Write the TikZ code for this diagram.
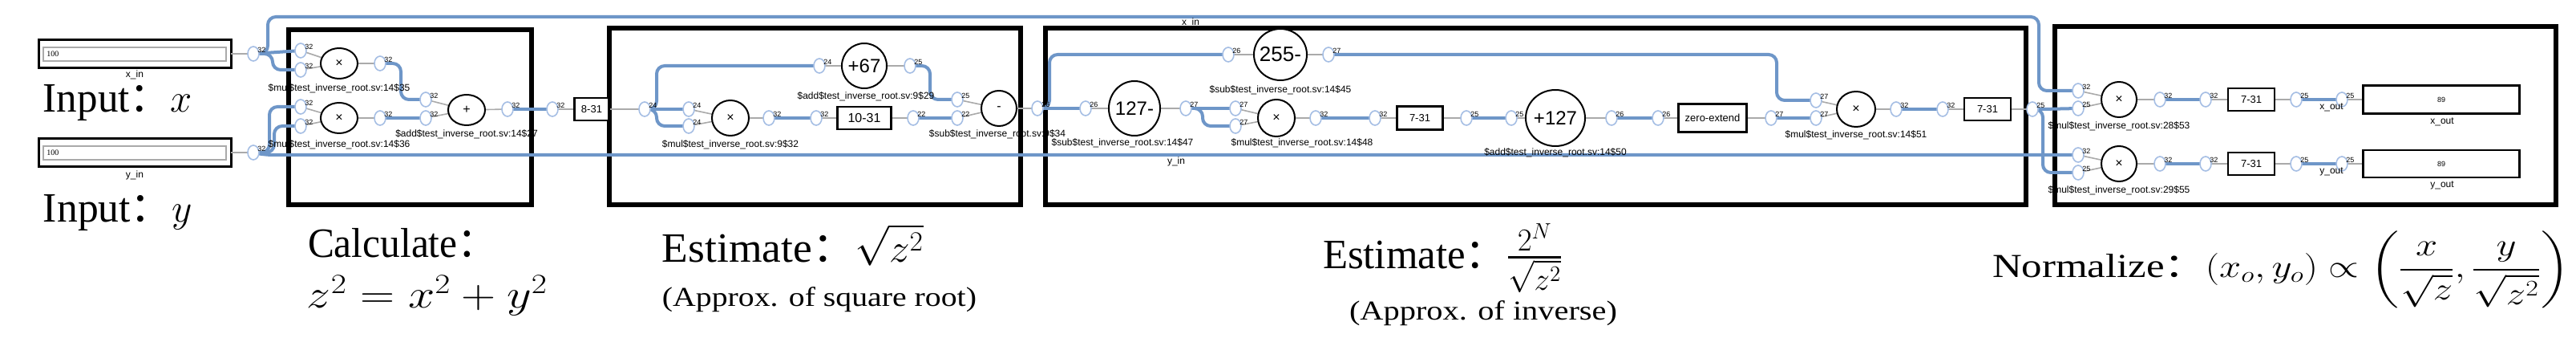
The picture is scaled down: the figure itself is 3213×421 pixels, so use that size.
\documentclass[tikz,border=0pt]{standalone}
\usepackage{amsmath}
\usepackage{fontspec}
\usepackage{graphicx}
\setmainfont{Liberation Serif}
\newfontfamily\lsans{Liberation Sans}
\newfontfamily\cjk{Noto Sans CJK SC}
\definecolor{wirec}{RGB}{110,150,200}
\definecolor{portc}{RGB}{165,190,228}
\definecolor{stubc}{RGB}{170,170,170}
\newcommand\myop[4]{\draw[opst] (#1) ellipse[x radius=#2,y radius=#3]; \node[optxt] at (#1) {#4};}
\newcommand\myport[2]{\draw[portst] (#1) ellipse[x radius=7,y radius=9]; \node[plab,anchor=south west,xshift=2.5pt,yshift=0.5pt] at (#1) {#2};}
\newcommand\mystub[2]{\draw[stubst] (#1) -- (#2);}
\newcommand\tir{test\_inverse\_root.sv}
\newcommand\cln{{\cjk ：}}
\begin{document}
\begin{tikzpicture}[x=0.5pt,y=-0.5pt,
  wire/.style={draw=wirec,line width=2pt,rounded corners=5pt},
  stubst/.style={draw=stubc,line width=0.8pt},
  opst/.style={draw=black,line width=1pt,fill=white},
  optxt/.style={font=\lsans\fontsize{8}{8}\selectfont,inner sep=0pt},
  portst/.style={draw=portc,line width=0.8pt,fill=white},
  plab/.style={font=\lsans\fontsize{4.5}{4.5}\selectfont,inner sep=0pt},
  nl/.style={font=\lsans\fontsize{6}{6}\selectfont,inner sep=0pt},
  rbox/.style={draw=black,line width=1.2pt,fill=white,font=\lsans\fontsize{6.5}{6.5}\selectfont,inner sep=0pt,align=center},
  bigbox/.style={draw=black,line width=3pt},
  captext/.style={inner sep=0pt,font=\fontsize{26}{28}\selectfont}]
\useasboundingbox (0,0) rectangle (3213,421);
\fill[white] (0,0) rectangle (3213,421);
% coordinates
\coordinate (xi) at (316,67); \coordinate (yi) at (316,190);
\coordinate (m1a) at (375,63); \coordinate (m1b) at (375,87); \coordinate (m1) at (423,79); \coordinate (m1o) at (474,79);
\coordinate (m2a) at (375,133); \coordinate (m2b) at (375,157); \coordinate (m2) at (423,147); \coordinate (m2o) at (474,147);
\coordinate (ada) at (531,124); \coordinate (adb) at (531,147); \coordinate (ad) at (582,137); \coordinate (ado) at (633,136);
\coordinate (r1i) at (689,136); \coordinate (r1o) at (804,136);
\coordinate (pa) at (1022,82); \coordinate (p67) at (1078,82); \coordinate (po) at (1135,82);
\coordinate (m3a) at (859,136); \coordinate (m3b) at (859,157); \coordinate (m3) at (911,147); \coordinate (m3o) at (959,147);
\coordinate (r2i) at (1018,147); \coordinate (r2o) at (1139,147);
\coordinate (sba) at (1194,124); \coordinate (sbb) at (1194,147); \coordinate (sb) at (1246,135); \coordinate (sbo) at (1294,135);
\coordinate (ta) at (1532,68); \coordinate (t255) at (1597,68); \coordinate (to) at (1657,68);
\coordinate (ua) at (1354,135); \coordinate (u127) at (1415,135); \coordinate (uo) at (1479,135);
\coordinate (m4a) at (1541,135); \coordinate (m4b) at (1541,157); \coordinate (m4) at (1592,147); \coordinate (m4o) at (1641,147);
\coordinate (r3i) at (1715,147); \coordinate (r3o) at (1829,147);
\coordinate (aa) at (1885,147); \coordinate (a127) at (1940,147); \coordinate (ao) at (2010,147);
\coordinate (zi) at (2068,147); \coordinate (zo) at (2209,147);
\coordinate (m5a) at (2265,125); \coordinate (m5b) at (2265,147); \coordinate (m5) at (2315,136); \coordinate (m5o) at (2365,136);
\coordinate (r4i) at (2423,136); \coordinate (r4o) at (2535,136);
\coordinate (m6a) at (2592,113); \coordinate (m6b) at (2592,135); \coordinate (m6) at (2643,124); \coordinate (m6o) at (2694,124);
\coordinate (r5i) at (2751,124); \coordinate (r5o) at (2864,124); \coordinate (xoi) at (2921,124);
\coordinate (m7a) at (2592,193); \coordinate (m7b) at (2592,215); \coordinate (m7) at (2643,204); \coordinate (m7o) at (2694,204);
\coordinate (r6i) at (2751,204); \coordinate (r6o) at (2864,204); \coordinate (yoi) at (2921,204);
% big boxes
\draw[bigbox] (360,37) rectangle (663,255);
\draw[bigbox] (760,35) rectangle (1273,255);
\draw[bigbox] (1304,35) rectangle (2527,255);
\draw[bigbox] (2563,33) rectangle (3188,255);
% input boxes
\draw[black,line width=1.5pt] (48,50) rectangle (288,85);
\draw[stubc,line width=0.8pt] (54,59) rectangle (282,76);
\node[nl,anchor=west,font=\fontsize{5}{5}\selectfont] (xv) at (58,67.5) {100};
\draw[black,line width=1.5pt] (48,173) rectangle (288,208);
\draw[stubc,line width=0.8pt] (54,182) rectangle (282,199);
\node[nl,anchor=west,font=\fontsize{5}{5}\selectfont] (yv) at (58,190.5) {100};
\mystub{xi}{288,67} \mystub{yi}{288,190}
% wires
\draw[wire] (xi) -- (m1a);
\draw[wire] (xi) -- (340,67) |- (m1b);
\draw[wire] (xi) -- (334,67) -- (334,21) -- (2543,21) -- (2543,113) -- (m6a);
\draw[wire] (yi) -- (336,190) |- (m2a);
\draw[wire] (yi) -- (342,190) |- (m2b);
\draw[wire] (yi) -- (330,193) -- (m7a);
\draw[wire] (m1o) -- (500,79) -- (500,124) -- (ada);
\draw[wire] (m2o) -- (adb);
\draw[wire] (ado) -- (r1i);
\draw[wire] (r1o) -- (m3a);
\draw[wire] (r1o) -- (819,136) |- (pa);
\draw[wire] (r1o) -- (819,136) |- (m3b);
\draw[wire] (m3o) -- (r2i);
\draw[wire] (r2o) -- (sbb);
\draw[wire] (po) -- (1160,82) |- (sba);
\draw[wire] (sbo) -- (ua);
\draw[wire] (sbo) -- (1309,135) |- (ta);
\draw[wire] (to) -- (2216,68) |- (m5a);
\draw[wire] (uo) -- (m4a);
\draw[wire] (uo) -- (1500,135) |- (m4b);
\draw[wire] (m4o) -- (r3i);
\draw[wire] (r3o) -- (aa);
\draw[wire] (ao) -- (zi);
\draw[wire] (zo) -- (m5b);
\draw[wire] (m5o) -- (r4i);
\draw[wire] (r4o) -- (2548,136) -- (m6b);
\draw[wire] (r4o) -- (2548,136) |- (m7b);
\draw[wire] (m6o) -- (r5i);
\draw[wire] (r5o) -- (xoi);
\draw[wire] (m7o) -- (r6i);
\draw[wire] (r6o) -- (yoi);
% stubs
\mystub{m1a}{m1} \mystub{m1b}{m1} \mystub{m1}{m1o}
\mystub{m2a}{m2} \mystub{m2b}{m2} \mystub{m2}{m2o}
\mystub{ada}{ad} \mystub{adb}{ad} \mystub{ad}{ado}
\mystub{r1i}{r1o}
\mystub{pa}{po} \mystub{m3a}{m3} \mystub{m3b}{m3} \mystub{m3}{m3o}
\mystub{r2i}{r2o} \mystub{sba}{sb} \mystub{sbb}{sb} \mystub{sb}{sbo}
\mystub{ta}{to} \mystub{ua}{uo} \mystub{m4a}{m4} \mystub{m4b}{m4} \mystub{m4}{m4o}
\mystub{r3i}{r3o} \mystub{aa}{ao} \mystub{zi}{zo}
\mystub{m5a}{m5} \mystub{m5b}{m5} \mystub{m5}{m5o} \mystub{r4i}{r4o}
\mystub{m6a}{m6} \mystub{m6b}{m6} \mystub{m6}{m6o} \mystub{r5i}{r5o} \mystub{xoi}{2948,124}
\mystub{m7a}{m7} \mystub{m7b}{m7} \mystub{m7}{m7o} \mystub{r6i}{r6o} \mystub{yoi}{2948,204}
% operators
\myop{m1}{23}{19}{×} \myop{m2}{23}{19}{×} \myop{ad}{23}{19}{+}
\myop{p67}{28}{28}{\fontsize{12}{12}\selectfont +67}
\myop{m3}{23}{22}{×} \myop{sb}{22}{22}{-}
\myop{t255}{33}{32}{\fontsize{13}{13}\selectfont 255-}
\myop{u127}{32}{34}{\fontsize{12}{12}\selectfont 127-}
\myop{m4}{23}{23}{×}
\myop{a127}{37}{35}{\fontsize{12}{12}\selectfont +127}
\myop{m5}{24}{22}{×} \myop{m6}{22}{22}{×} \myop{m7}{22}{22}{×}
% rects
\node[rbox,minimum width=21.5pt,minimum height=14pt] (r1) at (738,136) {8-31};
\node[rbox,minimum width=33.5pt,minimum height=14pt] (r2) at (1078,147) {\fontsize{8}{8}\selectfont 10-31};
\node[rbox,minimum width=28.5pt,minimum height=14.5pt] (r3) at (1771,147) {7-31};
\node[rbox,minimum width=42.5pt,minimum height=17.5pt] (ze) at (2136,147) {zero-extend};
\node[rbox,minimum width=29pt,minimum height=14pt] (r4) at (2479,136) {7-31};
\node[rbox,minimum width=29pt,minimum height=14pt] (r5) at (2808,124) {7-31};
\node[rbox,minimum width=29pt,minimum height=14pt] (r6) at (2808,204) {7-31};
\node[rbox,minimum width=97.5pt,minimum height=17.5pt,font=\lsans\fontsize{4.5}{4.5}\selectfont] (xo) at (3045,124) {89};
\node[rbox,minimum width=97.5pt,minimum height=17pt,font=\lsans\fontsize{4.5}{4.5}\selectfont] (yo) at (3045,204) {89};
% ports
\myport{xi}{32} \myport{yi}{32}
\myport{m1a}{32} \myport{m1b}{32} \myport{m1o}{32}
\myport{m2a}{32} \myport{m2b}{32} \myport{m2o}{32}
\myport{ada}{32} \myport{adb}{32} \myport{ado}{32}
\myport{r1i}{32} \myport{r1o}{24}
\myport{pa}{24} \myport{po}{25}
\myport{m3a}{24} \myport{m3b}{24} \myport{m3o}{32}
\myport{r2i}{32} \myport{r2o}{22}
\myport{sba}{25} \myport{sbb}{22} \myport{sbo}{26}
\myport{ta}{26} \myport{to}{27} \myport{ua}{26} \myport{uo}{27}
\myport{m4a}{27} \myport{m4b}{27} \myport{m4o}{32}
\myport{r3i}{32} \myport{r3o}{25} \myport{aa}{25} \myport{ao}{26}
\myport{zi}{26} \myport{zo}{27}
\myport{m5a}{27} \myport{m5b}{27} \myport{m5o}{32}
\myport{r4i}{32} \myport{r4o}{25}
\myport{m6a}{32} \myport{m6b}{25} \myport{m6o}{32} \myport{r5i}{32} \myport{r5o}{25} \myport{xoi}{25}
\myport{m7a}{32} \myport{m7b}{25} \myport{m7o}{32} \myport{r6i}{32} \myport{r6o}{25} \myport{yoi}{25}
% labels
\node[nl] (lxin) at (168,93) {x\_in};
\node[nl] (lyin) at (168,218) {y\_in};
\node[nl] (l1) at (423,110) {\$mul\$\tir:14\$35};
\node[nl] (l2) at (423,180) {\$mul\$\tir:14\$36};
\node[nl] (l3) at (582,167) {\$add\$\tir:14\$27};
\node[nl] (l4) at (1080,120) {\$add\$\tir:9\$29};
\node[nl] (l5) at (911,180) {\$mul\$\tir:9\$32};
\node[nl] (l6) at (1244,167) {\$sub\$\tir:9\$34};
\node[nl] (l7) at (1597,112) {\$sub\$\tir:14\$45};
\node[nl] (l8) at (1400,178) {\$sub\$\tir:14\$47};
\node[nl] (l9) at (1624,178) {\$mul\$\tir:14\$48};
\node[nl] (l10) at (1940,190) {\$add\$\tir:14\$50};
\node[nl] (l11) at (2315,168) {\$mul\$\tir:14\$51};
\node[nl] (l12) at (2643,157) {\$mul\$\tir:28\$53};
\node[nl] (l13) at (2643,237) {\$mul\$\tir:29\$55};
\node[nl] (lx2) at (1485,28) {x\_in};
\node[nl] (ly2) at (1467,201) {y\_in};
\node[nl] (lxo1) at (2908,134) {x\_out};
\node[nl] (lyo1) at (2908,214) {y\_out};
\node[nl] (lxo2) at (3046,152) {x\_out};
\node[nl] (lyo2) at (3046,231) {y\_out};
% captions
\node[captext] (c1) at (147,128) {\resizebox{93pt}{\height}{Input\cln$x$}};
\node[captext] (c2) at (147,265) {\resizebox{93pt}{\height}{Input\cln$y$}};
\node[captext] (c3) at (502,303) {\resizebox{118pt}{\height}{Calculate\cln}};
\node[captext] (c4) at (533,368) {\resizebox{150pt}{\height}{$z^2=x^2+y^2$}};
\node[captext] (c5) at (989,305) {\resizebox{163pt}{\height}{Estimate\cln$\sqrt{z^2}$}};
\node[captext,font=\fontsize{17}{18}\selectfont] (c6) at (1022,373) {\resizebox{196pt}{\height}{(Approx. of square root)}};
\node[captext] (c7) at (1800,322) {\resizebox{150pt}{\height}{Estimate\cln\scalebox{1.15}{$\frac{2^N}{\sqrt{z^2}}$}}};
\node[captext,font=\fontsize{17}{18}\selectfont] (c8) at (1850,390) {\resizebox{167pt}{\height}{(Approx. of inverse)}};
\node[captext] (c9) at (2845,336) {\resizebox*{360pt}{48pt}{Normalize\cln$(x_o,y_o)\propto\left(\dfrac{x}{\sqrt{z}},\dfrac{y}{\sqrt{z^2}}\right)$}};
\end{tikzpicture}
\end{document}
